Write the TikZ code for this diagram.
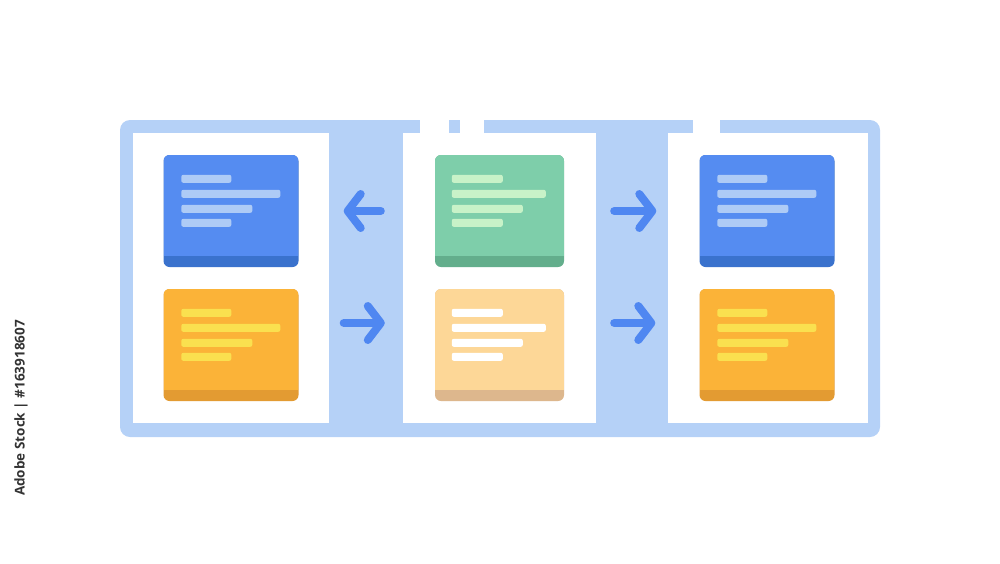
\documentclass[tikz,border=0pt]{standalone}
\usepackage{fontspec}
\setsansfont{Open Sans}
\usetikzlibrary{arrows.meta}
\definecolor{framebg}{HTML}{B5D1F7}
\definecolor{cardblue}{HTML}{558CF1}
\definecolor{cardbluedk}{HTML}{3A72CD}
\definecolor{lineblue}{HTML}{AECBF6}
\definecolor{cardorange}{HTML}{FBB338}
\definecolor{cardorangedk}{HTML}{E39B32}
\definecolor{lineyellow}{HTML}{FAE04F}
\definecolor{cardgreen}{HTML}{7ECEAA}
\definecolor{cardgreendk}{HTML}{63AE8C}
\definecolor{linegreen}{HTML}{C8F2C8}
\definecolor{cardpeach}{HTML}{FDD797}
\definecolor{cardpeachdk}{HTML}{DDB78D}
\definecolor{arrowblue}{HTML}{4F87F1}
\tikzset{
  card/.style 2 args={
    % The shape:
    shape=rectangle,rounded corners=6pt,inner sep=0pt,
    % The size:
    minimum width=135pt,minimum height=112pt,
    % The filling: dark strip at the bottom, main colour above
    fill=#2,
    path picture={
      \fill[#1,sharp corners] (path picture bounding box.north west)
        rectangle ([yshift=11pt]path picture bounding box.south east);}
  }}
\tikzset{
  panel/.style={
    rectangle,inner sep=0pt,fill=white,minimum height=290pt},
  flow/.style={
    line width=8pt,line cap=round,arrowblue,
    -{Straight Barb[length=13pt,width=34pt,round]}}}

\begin{document}
\begin{tikzpicture}[x=1pt,y=-1pt]
	\useasboundingbox (0,0) rectangle (1000,563);
	% The frame and the three columns
	\node[rectangle,rounded corners=10pt,fill=framebg,inner sep=0pt,
	      minimum width=760pt,minimum height=317pt] (frame) at (500,278.5) {};
	\node[panel,minimum width=196pt] (left) at (231,278) {};
	\node[panel,minimum width=193pt] (mid) at (499.5,278) {};
	\node[panel,minimum width=200pt] (right) at (768,278) {};
	\fill[white] (420,119) rectangle (449,134);
	\fill[white] (460,119) rectangle (484,134);
	\fill[white] (693,119) rectangle (720,134);
	% Cards
	\node[card={cardblue}{cardbluedk}] (blueL) at (231,211) {};
	\node[card={cardorange}{cardorangedk}] (orangeL) at (231,345) {};
	\node[card={cardgreen}{cardgreendk},minimum width=129pt] (green) at (499.5,211) {};
	\node[card={cardpeach}{cardpeachdk},minimum width=129pt] (peach) at (499.5,345) {};
	\node[card={cardblue}{cardbluedk}] (blueR) at (767,211) {};
	\node[card={cardorange}{cardorangedk}] (orangeR) at (767,345) {};
	% Text lines on the cards
	\foreach \c/\col in {blueL/lineblue,orangeL/lineyellow,blueR/lineblue,orangeR/lineyellow}
		\foreach \dy/\len in {20/50,35/99,50/71,64/50}
			\fill[\col,rounded corners=2pt] ([shift={(18,\dy)}]\c.north west) rectangle +(\len,8);
	\foreach \c/\col in {green/linegreen,peach/white}
		\foreach \dy/\len in {20/51,35/94,50/71,64/51}
			\fill[\col,rounded corners=2pt] ([shift={(17,\dy)}]\c.north west) rectangle +(\len,8);
	% Arrows between the columns
	\draw[flow,shorten <=54pt,shorten >=45pt] (green.west) -- (blueL.east);
	\draw[flow,shorten <=45pt,shorten >=50pt] ([yshift=22pt]orangeL.east) -- ([yshift=22pt]peach.west);
	\draw[flow,shorten <=50pt,shorten >=43pt] (green.east) -- (blueR.west);
	\draw[flow,shorten <=50pt,shorten >=44pt] ([yshift=22pt]peach.east) -- ([yshift=22pt]orangeR.west);
	% Stock label
	\node[rotate=90,font=\sffamily\bfseries\fontsize{13.5}{16}\selectfont,text=black!80] (stock) at (21,408) {Adobe Stock | \#163918607};
\end{tikzpicture}
\end{document}
